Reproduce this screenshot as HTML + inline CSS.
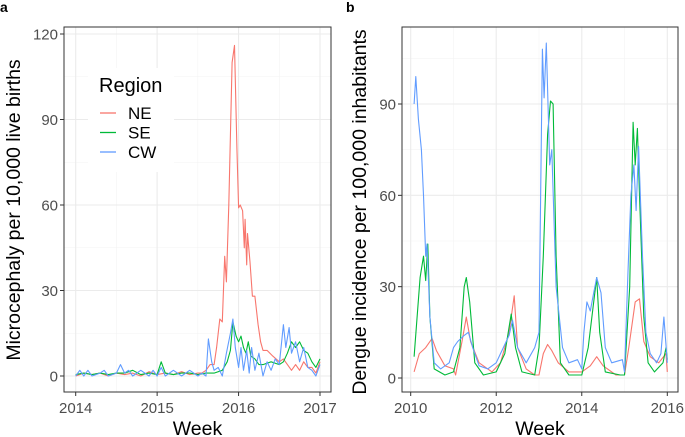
<!DOCTYPE html>
<html><head><meta charset="utf-8"><style>
body{margin:0;background:#fff;}
svg{display:block;font-family:"Liberation Sans",sans-serif;}
</style></head><body>
<svg id="c" width="685" height="437"></svg>
<script>
// Panel a data (decimal year, value)
const aNEx=[2014,2014.1,2014.2,2014.3,2014.4,2014.5,2014.6,2014.7,2014.8,2014.9,2015,2015.1,2015.2,2015.3,2015.4,2015.5,2015.55,2015.6,2015.65,2015.7,2015.73,2015.77,2015.8,2015.83,2015.85,2015.88,2015.92,2015.95,2015.98,2016.0,2016.02,2016.05,2016.07,2016.08,2016.1,2016.11,2016.14,2016.17,2016.2,2016.24,2016.27,2016.3,2016.35,2016.42,2016.5,2016.55,2016.6,2016.65,2016.7,2016.75,2016.8,2016.85,2016.9,2016.95,2017];
const aNEy=[0,1,0.5,1,0,1,0.5,1,0,1.5,0.5,1,0.5,1.5,0.5,1,1,2,4,4,10,20,19,42,33,60,110,116,80,59,60,58,45,55,39,50,40,28,28,18,12,9,9,7,5,6,4,2,4,2,5,3,3,1,5];
const aSEx=[2014,2014.1,2014.2,2014.3,2014.4,2014.5,2014.6,2014.7,2014.8,2014.9,2015,2015.05,2015.1,2015.2,2015.3,2015.4,2015.5,2015.6,2015.7,2015.8,2015.86,2015.9,2015.93,2015.97,2016,2016.03,2016.06,2016.09,2016.12,2016.15,2016.2,2016.25,2016.3,2016.4,2016.5,2016.55,2016.6,2016.65,2016.7,2016.75,2016.8,2016.85,2016.9,2016.95,2017];
const aSEy=[0.5,1,0.5,1,0.5,1,1,2,0.5,1,0.5,5,1,0.5,1,1,0.5,1,1,2,5,9,19,14,12,14,10,8,12,7,6,4,4,5,4,5,8,12,10,12,9,8,5,3,6];
const aCWx=[2014,2014.05,2014.1,2014.15,2014.2,2014.3,2014.35,2014.4,2014.5,2014.55,2014.6,2014.65,2014.7,2014.8,2014.9,2014.95,2015,2015.05,2015.1,2015.2,2015.3,2015.4,2015.5,2015.55,2015.6,2015.63,2015.67,2015.7,2015.75,2015.8,2015.85,2015.9,2015.93,2015.96,2016,2016.03,2016.06,2016.1,2016.13,2016.16,2016.2,2016.25,2016.3,2016.35,2016.4,2016.45,2016.5,2016.55,2016.58,2016.62,2016.65,2016.7,2016.75,2016.8,2016.85,2016.9,2016.95,2017];
const aCWy=[0,2,0,2,0,1,2,0,1,4,1,2,0,2,0,2,0,3,0,2,0,2,0,1,0,13,5,2,3,0,8,15,20,10,3,10,2,9,1,10,2,8,0,5,2,6,4,18,10,17,8,12,5,10,3,2,0,4];
// Panel b data
const bNEx=[2010.08,2010.2,2010.35,2010.5,2010.6,2010.8,2011.0,2011.05,2011.2,2011.3,2011.4,2011.6,2011.9,2012.1,2012.3,2012.42,2012.5,2012.7,2012.9,2013.0,2013.1,2013.2,2013.3,2013.45,2013.7,2014.0,2014.2,2014.35,2014.5,2014.8,2015.0,2015.1,2015.25,2015.35,2015.45,2015.6,2015.8,2015.97,2016];
const bNEy=[2,8,10,13,9,4,3,1,12,20,12,5,2,5,15,27,10,3,1,1,8,11,9,5,2,2,4,7,4,1,1,10,25,26,12,7,5,8,2];
const bSEx=[2010.08,2010.15,2010.22,2010.3,2010.35,2010.4,2010.45,2010.55,2010.8,2011.0,2011.15,2011.25,2011.3,2011.38,2011.5,2011.7,2012.0,2012.2,2012.35,2012.45,2012.6,2012.9,2013.0,2013.1,2013.2,2013.27,2013.33,2013.4,2013.5,2013.7,2014.0,2014.15,2014.28,2014.35,2014.42,2014.55,2014.9,2015.0,2015.12,2015.2,2015.25,2015.3,2015.35,2015.45,2015.55,2015.7,2015.9,2015.97,2016];
const bSEy=[7,20,33,40,32,44,20,3,1,2,10,30,33,25,5,1,2,8,21,10,2,1,10,40,80,91,90,40,5,1,1,10,25,33,15,2,1,1,30,84,70,82,60,20,5,2,5,10,6];
const bCWx=[2010.08,2010.12,2010.18,2010.25,2010.3,2010.35,2010.38,2010.45,2010.55,2010.7,2010.9,2011.0,2011.1,2011.25,2011.35,2011.45,2011.6,2011.8,2012.0,2012.1,2012.3,2012.38,2012.5,2012.7,2012.9,2013.0,2013.08,2013.12,2013.17,2013.25,2013.3,2013.4,2013.55,2013.7,2013.9,2014.0,2014.05,2014.12,2014.2,2014.28,2014.35,2014.45,2014.55,2014.7,2014.95,2015.0,2015.08,2015.15,2015.22,2015.27,2015.33,2015.42,2015.5,2015.6,2015.75,2015.85,2015.92,2016];
const bCWy=[90,99,85,75,60,40,44,20,5,3,5,10,12,14,15,10,4,3,5,8,14,19,10,5,10,15,108,92,110,70,75,30,10,5,6,3,15,25,22,28,33,28,10,5,6,2,35,60,70,55,76,40,15,8,5,8,20,5];
const aXticks=[2014,2015,2016,2017], aYticks=[0,30,60,90,120];
const bXticks=[2010,2012,2014,2016], bYticks=[0,30,60,90];
const COL={NE:'#F8766D',SE:'#00BA38',CW:'#619CFF'};
const svg=document.getElementById('c');
const NS='http://www.w3.org/2000/svg';
function mk(t,at,txt){const e=document.createElementNS(NS,t);for(const k in at)e.setAttribute(k,at[k]);if(txt!==undefined)e.textContent=txt;svg.appendChild(e);return e;}
function panel(P){
  const X=v=>P.x0+(v-P.xv0)*(P.x1-P.x0)/(P.xv1-P.xv0);
  const Y=v=>P.y0+(v-P.yv0)*(P.y1-P.y0)/(P.yv1-P.yv0);
  for(let i=0;i<P.xt.length-1;i++){const g=mk('line',{x1:X((P.xt[i]+P.xt[i+1])/2),x2:X((P.xt[i]+P.xt[i+1])/2),y1:P.top,y2:P.bot,stroke:'#f3f3f3','stroke-width':0.6});}
  for(let i=0;i<P.yt.length;i++){const m=P.yt[i]+(P.yt[1]-P.yt[0])/2;if(Y(m)>P.top){const g=mk('line',{x1:P.left,x2:P.right,y1:Y(m),y2:Y(m),stroke:'#f3f3f3','stroke-width':0.6});}}
  P.xt.forEach(v=>{const g=mk('line',{x1:X(v),x2:X(v),y1:P.top,y2:P.bot,stroke:'#ebebeb','stroke-width':1.1});
    const t=mk('line',{x1:X(v),x2:X(v),y1:P.bot,y2:P.bot+4,stroke:'#333'});
    const l=mk('text',{x:X(v),y:P.bot+21,'text-anchor':'middle','font-size':15,fill:'#4d4d4d'},v);});
  P.yt.forEach(v=>{const g=mk('line',{x1:P.left,x2:P.right,y1:Y(v),y2:Y(v),stroke:'#ebebeb','stroke-width':1.1});
    const t=mk('line',{x1:P.left-4,x2:P.left,y1:Y(v),y2:Y(v),stroke:'#333'});
    const l=mk('text',{x:P.left-6,y:Y(v)+5.5,'text-anchor':'end','font-size':15,fill:'#4d4d4d'},v);});
  P.series.forEach(s=>{const d=s.x.map((v,i)=>(i?'L':'M')+X(v).toFixed(1)+','+Y(s.y[i]).toFixed(1)).join('');
    const p=mk('path',{d:d,fill:'none',stroke:COL[s.n],'stroke-width':1.1,'stroke-linejoin':'round'});});
  const b=mk('rect',{x:P.left,y:P.top,width:P.right-P.left,height:P.bot-P.top,fill:'none',stroke:'#333','stroke-width':1});
  const xt=mk('text',{x:(P.left+P.right)/2,y:435,'text-anchor':'middle','font-size':19.5,fill:'#000'},'Week');
  const yt=mk('text',{x:0,y:0,'text-anchor':'middle','font-size':19.5,fill:'#000',transform:`translate(${P.ytx},${P.ytc}) rotate(-90)`},P.ytitle);
  const tg=mk('text',{x:P.tagx,y:12,'font-size':14,'font-weight':'bold'},P.tag);
}
panel({left:64,right:331,top:27,bot:392,x0:75.7,x1:320,xv0:2014,xv1:2017,y0:376,y1:34,yv0:0,yv1:120,xt:aXticks,yt:aYticks,
  series:[{n:'NE',x:aNEx,y:aNEy},{n:'SE',x:aSEx,y:aSEy},{n:'CW',x:aCWx,y:aCWy}],ytitle:'Microcephaly per 10,000 live births',ytx:20,ytc:210,tag:'a',tagx:0});
panel({left:402,right:678,top:27,bot:392,x0:410.7,x1:667.3,xv0:2010,xv1:2016,y0:378,y1:104,yv0:0,yv1:90,xt:bXticks,yt:bYticks,
  series:[{n:'NE',x:bNEx,y:bNEy},{n:'SE',x:bSEx,y:bSEy},{n:'CW',x:bCWx,y:bCWy}],ytitle:'Dengue incidence per 100,000 inhabitants',ytx:366,ytc:212,tag:'b',tagx:346});
const lg=mk('rect',{x:88,y:68,width:86,height:104,fill:'#fff'});
const lt=mk('text',{x:99,y:92,'font-size':20},'Region');
['NE','SE','CW'].forEach((n,i)=>{const y=113+i*19.5;
  const l=mk('line',{x1:100,x2:116,y1:y,y2:y,stroke:COL[n],'stroke-width':1.3});
  const t=mk('text',{x:128,y:y+6,'font-size':17},n);});
</script>
</body></html>
